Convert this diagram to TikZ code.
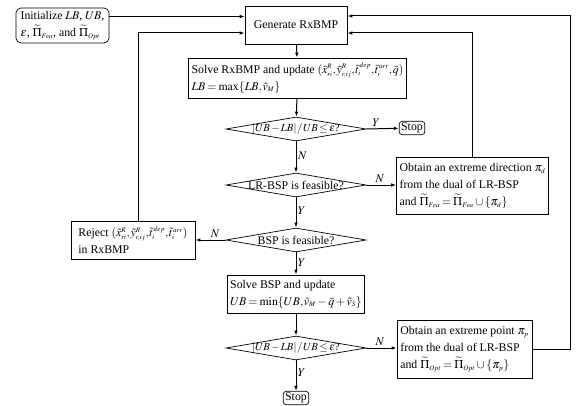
\documentclass[tikz,border=0pt]{standalone}
\usepackage{amsmath}
\usepackage{mathptmx}
\usepackage{fontspec}
\setmainfont{Liberation Serif}
\usetikzlibrary{shapes.geometric,arrows.meta}
\DeclareMathSizes{11.8}{11.8}{7}{5.5}
\DeclareMathSizes{10.8}{10.8}{7}{5.5}
\newcommand{\flowfont}{\fontsize{11.8}{17}\selectfont\thinmuskip=1mu\medmuskip=2.5mu\thickmuskip=3mu}
\newcommand{\gapfont}{\fontsize{10.8}{13}\selectfont\thinmuskip=1mu\medmuskip=2mu\thickmuskip=2.5mu}
\tikzset{
	box/.style={draw, line width=0.7pt, align=left, inner xsep=3pt, inner ysep=2pt, font=\flowfont},
	startbox/.style={box, rounded corners=5pt},
	stopbox/.style={draw, line width=0.7pt, rounded corners=3pt, inner xsep=2pt, inner ysep=1.5pt, font=\flowfont},
	decision/.style={draw, diamond, line width=0.7pt, inner sep=0pt, minimum width=140pt, minimum height=24pt},
	dtext/.style={inner sep=0pt, font=\flowfont},
	flow/.style={-{Latex[length=5pt,width=3.5pt]}, line width=1pt},
	yn/.style={inner sep=1.5pt, font=\flowfont}
}

\begin{document}
\begin{tikzpicture}[x=1pt, y=-1pt]
	\useasboundingbox (0,0) rectangle (580,406);
	
	\node[startbox, minimum width=93pt, minimum height=35pt] (init) at (62.5,25.5)
	{Initialize $LB$, $UB$,\\ $\varepsilon$, $\widetilde{\Pi}_{Fea}$, and $\widetilde{\Pi}_{Opt}$};
	\node[box, align=center, minimum width=102pt, minimum height=38pt] (gen) at (296,25) {Generate RxBMP};
	\node[box, minimum width=211pt, minimum height=40pt] (solveM) at (297.5,78)
	{Solve RxBMP and update $(\bar{x}^{R}_{ri},\bar{y}^{R}_{r,ij},\bar{t}^{\,dep}_{i},\bar{t}^{\,arr}_{i},\bar{q})$\\ $LB=\max\{LB,\tilde{v}_M\}$};
	
	\node[decision] (gap1) at (296,129) {};
	\node[dtext, font=\gapfont] (gap1txt) at (gap1) {$\left|UB-LB\right|/\,UB\le\varepsilon$?};
	\node[stopbox] (stop1) at (412,128) {Stop};
	
	\node[decision] (feasLR) at (296,185) {};
	\node[dtext] (feasLRtxt) at (feasLR) {LR-BSP is feasible?};
	\node[box, minimum width=151pt, minimum height=57pt] (extdir) at (472.5,186)
	{Obtain an extreme direction $\pi_d$\\ from the dual of LR-BSP\\ and $\widetilde{\Pi}_{Fea}=\widetilde{\Pi}_{Fea}\cup\{\pi_d\}$};
	
	\node[decision] (feasS) at (296,240) {};
	\node[dtext] (feasStxt) at (feasS) {BSP is feasible?};
	\node[box, minimum width=124pt, minimum height=38pt] (reject) at (133,240)
	{Reject $(\tilde{x}^{R}_{ri},\tilde{y}^{R}_{r,ij},\tilde{t}^{\,dep}_{i},\tilde{t}^{\,arr}_{i})$\\ in RxBMP};
	
	\node[box, minimum width=124pt, minimum height=38pt] (solveS) at (296,294)
	{Solve BSP and update\\ $UB=\min\{UB,\tilde{v}_M-\bar{q}+\tilde{v}_S\}$};
	
	\node[decision] (gap2) at (296,348) {};
	\node[dtext, font=\gapfont] (gap2txt) at (gap2) {$\left|UB-LB\right|/\,UB\le\varepsilon$?};
	\node[box, minimum width=135pt, minimum height=58pt] (extpt) at (464.5,349)
	{Obtain an extreme point $\pi_p$\\ from the dual of LR-BSP\\ and $\widetilde{\Pi}_{Opt}=\widetilde{\Pi}_{Opt}\cup\{\pi_p\}$};
	\node[stopbox] (stop2) at (296,398) {Stop};
	
	% main column
	\draw[flow] (gen) -- (solveM);
	\draw[flow] (solveM) -- (gap1);
	\draw[flow] (gap1.east) -- node[yn, above, pos=0.3] (y1) {$Y$} (stop1);
	\draw[flow] (gap1) -- node[yn, right, pos=0.45] (n1) {$N$} (feasLR);
	\draw[flow] (feasLR.east) -- node[yn, above, pos=0.45] (n2) {$N$} (feasLR.east -| extdir.west);
	\draw[flow] (feasLR) -- node[yn, right, pos=0.45] (y2) {$Y$} (feasS);
	\draw[flow] (feasS.west) -- node[yn, above, pos=0.35] (n3) {$N$} (reject.east);
	\draw[flow] (feasS) -- node[yn, right, pos=0.45] (y3) {$Y$} (solveS);
	\draw[flow] (solveS) -- (gap2);
	\draw[flow] (gap2.east) -- node[yn, above, pos=0.45] (n4) {$N$} (gap2.east -| extpt.west);
	\draw[flow] (gap2) -- node[yn, right, pos=0.4] (y4) {$Y$} (stop2);
	
	% feedback lines
	\draw[flow] ([yshift=9pt]init.east) -- ([yshift=9pt]init.east -| gen.west);
	\draw[flow] ([xshift=5pt]reject.north) |- ([yshift=-8pt]gen.west);
	\draw[flow] (extdir.north) |- ([yshift=-8pt]gen.east);
	\draw[flow] (extpt.east) -- ++(38,0) |- ([yshift=9pt]gen.east);
\end{tikzpicture}
\end{document}
